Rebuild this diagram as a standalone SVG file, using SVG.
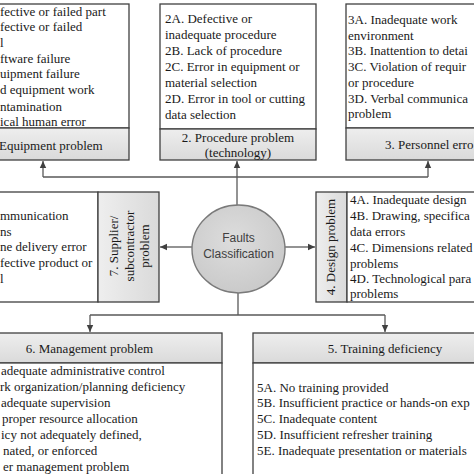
<svg xmlns="http://www.w3.org/2000/svg" width="474" height="474" viewBox="0 0 474 474">
<style>
.box{fill:#ffffff;stroke:#404040;stroke-width:1.3}
.band{fill:url(#g);stroke:#404040;stroke-width:1.3}
.t{font-family:"Liberation Serif","Times New Roman",serif;font-size:13px;fill:#1a1a1a}
.c{text-anchor:middle}
.con{fill:none;stroke:#595959;stroke-width:1.3}
.ct{font-family:"Liberation Sans",Arial,sans-serif;font-size:12px;fill:#404040;text-anchor:middle}
</style>
<defs>
<linearGradient id="g" x1="0" y1="0" x2="0" y2="1">
<stop offset="0" stop-color="#eeeeee"/>
<stop offset="1" stop-color="#dadada"/>
</linearGradient>
<linearGradient id="gh" x1="0" y1="0" x2="1" y2="0">
<stop offset="0" stop-color="#eeeeee"/>
<stop offset="1" stop-color="#dadada"/>
</linearGradient>
<radialGradient id="gc" cx="0.45" cy="0.4" r="0.6">
<stop offset="0" stop-color="#dddddd"/>
<stop offset="1" stop-color="#cacaca"/>
</radialGradient>
<marker id="ar" markerWidth="8" markerHeight="8" refX="7" refY="4" orient="auto" markerUnits="userSpaceOnUse">
<path d="M0,0.8 L7,4 L0,7.2 Z" fill="#404040"/>
</marker>
</defs>
<rect width="474" height="474" fill="#ffffff"/>

<g id="connectors">
<path class="con" d="M237,205 V161" marker-end="url(#ar)"/>
<path class="con" d="M43,177 H428"/>
<path class="con" d="M43,177 V161" marker-end="url(#ar)"/>
<path class="con" d="M428,177 V161" marker-end="url(#ar)"/>
<path class="con" d="M192,247 H160" marker-end="url(#ar)"/>
<path class="con" d="M285,247 H315" marker-end="url(#ar)"/>
<path class="con" d="M238,293 V315 M90,315 H385"/>
<path class="con" d="M90,315 V332" marker-end="url(#ar)"/>
<path class="con" d="M385,315 V332" marker-end="url(#ar)"/>
</g>

<g id="node-1">
<rect class="box" x="-10" y="4" width="139" height="124"/>
<rect class="band" x="-10" y="128" width="139" height="32"/>
<text class="t" x="0" y="15.7">fective or failed part</text>
<text class="t" x="0" y="30.7">fective or failed</text>
<text class="t" x="0" y="46.7">l</text>
<text class="t" x="0" y="63">ftware failure</text>
<text class="t" x="0" y="78">uipment failure</text>
<text class="t" x="0" y="94">d equipment work</text>
<text class="t" x="0" y="110.7">ntamination</text>
<text class="t" x="0" y="126.3">ical human error</text>
<text class="t" x="-1" y="149.5">Equipment problem</text>
</g>

<g id="node-2">
<rect class="box" x="160" y="4" width="156" height="125"/>
<rect class="band" x="160" y="129" width="156" height="31"/>
<text class="t" x="165" y="22.5">2A. Defective or</text>
<text class="t" x="165" y="39">inadequate procedure</text>
<text class="t" x="165" y="55">2B. Lack of procedure</text>
<text class="t" x="165" y="71">2C. Error in equipment or</text>
<text class="t" x="165" y="86.5">material selection</text>
<text class="t" x="165" y="102.5">2D. Error in tool or cutting</text>
<text class="t" x="165" y="118.5">data selection</text>
<text class="t c" x="238" y="141.5">2. Procedure problem</text>
<text class="t c" x="238" y="156.5">(technology)</text>
</g>

<g id="node-3">
<rect class="box" x="346" y="4" width="140" height="124"/>
<rect class="band" x="346" y="128" width="140" height="32"/>
<text class="t" x="348" y="23.5">3A. Inadequate work</text>
<text class="t" x="348" y="39.5">environment</text>
<text class="t" x="348" y="54.5">3B. Inattention to detai</text>
<text class="t" x="348" y="70.5">3C. Violation of requir</text>
<text class="t" x="348" y="86.5">or procedure</text>
<text class="t" x="348" y="102.5">3D. Verbal communica</text>
<text class="t" x="348" y="117.5">problem</text>
<text class="t" x="385" y="148.5">3. Personnel erro</text>
</g>

<g id="node-7">
<rect class="box" x="-10" y="192" width="108" height="110"/>
<rect x="98" y="192" width="61" height="110" fill="url(#gh)" stroke="#404040" stroke-width="1.3"/>
<text class="t" x="0" y="219.5">mmunication</text>
<text class="t" x="0" y="235.5">ns</text>
<text class="t" x="0" y="251">ne delivery error</text>
<text class="t" x="0" y="267">fective product or</text>
<text class="t" x="0" y="282.5">l</text>
<text class="t c" transform="translate(118,246) rotate(-90)">7. Supplier/</text>
<text class="t c" transform="translate(133.5,246) rotate(-90)">subcontractor</text>
<text class="t c" transform="translate(149,246) rotate(-90)">problem</text>
</g>

<g id="node-4">
<rect x="316" y="192" width="31" height="110" fill="url(#gh)" stroke="#404040" stroke-width="1.3"/>
<rect class="box" x="347" y="192" width="140" height="110"/>
<text class="t c" transform="translate(334.5,247) rotate(-90)">4. Design problem</text>
<text class="t" x="350" y="203.5">4A. Inadequate design</text>
<text class="t" x="350" y="219.5">4B. Drawing, specifica</text>
<text class="t" x="350" y="235.5">data errors</text>
<text class="t" x="350" y="251.5">4C. Dimensions related</text>
<text class="t" x="350" y="267.5">problems</text>
<text class="t" x="350" y="282.5">4D. Technological para</text>
<text class="t" x="350" y="297.5">problems</text>
</g>

<g id="node-center">
<ellipse cx="238.5" cy="249" rx="46.5" ry="44" fill="url(#gc)" stroke="#7a7a7a" stroke-width="1.4"/>
<text class="ct" x="238.5" y="242">Faults</text>
<text class="ct" x="238.5" y="258">Classification</text>
</g>

<g id="node-6">
<rect class="band" x="-10" y="333" width="232" height="30"/>
<rect class="box" x="-10" y="363" width="232" height="120"/>
<text class="t c" x="89.5" y="352.5">6. Management problem</text>
<text class="t" x="1" y="374.5">adequate administrative control</text>
<text class="t" x="0" y="390.5">rk organization/planning deficiency</text>
<text class="t" x="1" y="406.5">adequate supervision</text>
<text class="t" x="2" y="422.5">proper resource allocation</text>
<text class="t" x="1" y="438.5">icy not adequately defined,</text>
<text class="t" x="3" y="454.5">nated, or enforced</text>
<text class="t" x="3" y="470.5">er management problem</text>
</g>

<g id="node-5">
<rect class="band" x="253" y="333" width="232" height="30"/>
<rect class="box" x="253" y="363" width="232" height="120"/>
<text class="t c" x="385" y="352.5">5. Training deficiency</text>
<text class="t" x="257" y="391.5">5A. No training provided</text>
<text class="t" x="257" y="406.5">5B. Insufficient practice or hands-on exp</text>
<text class="t" x="257" y="422.5">5C. Inadequate content</text>
<text class="t" x="257" y="438.5">5D. Insufficient refresher training</text>
<text class="t" x="257" y="454.5">5E. Inadequate presentation or materials</text>
</g>
</svg>
